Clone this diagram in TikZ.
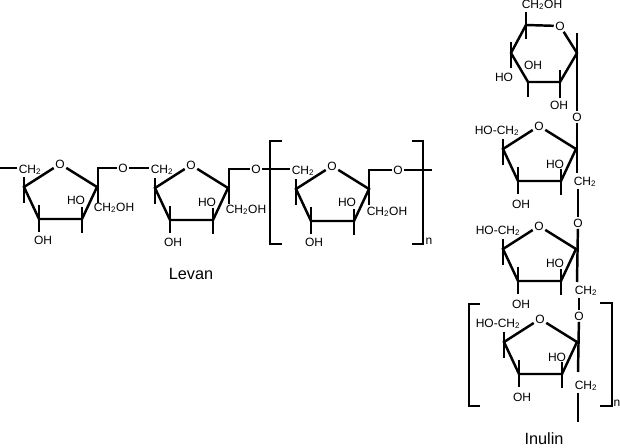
\documentclass[tikz,border=0pt]{standalone}
\usepackage{fontspec}
\setmainfont{Liberation Sans}
\tikzset{bond/.style={line width=1.85pt},
	atom/.style={inner sep=1pt,font=\fontsize{9}{10}\selectfont},
	title/.style={inner sep=0pt,font=\fontsize{12.2}{14}\selectfont},
	fivering/.pic={
		\node[atom] (o) at (0,0) {O};
		\coordinate (lc) at (-36,23);
		\coordinate (rc) at (37,23);
		\coordinate (bl) at (-21,55);
		\coordinate (br) at (22,55);
		\coordinate (la) at (-36,13);
		\coordinate (lb) at (-36,39);
		\coordinate (bla) at (-21,41);
		\coordinate (blb) at (-21,68);
		\coordinate (bra) at (22,43);
		\coordinate (brb) at (22,69);
		\draw[bond] (o) -- (rc) -- (br) -- (bl) -- (lc) -- (o);
		\draw[bond] (la) -- (lb);
		\draw[bond] (bla) -- (blb);
		\draw[bond] (bra) -- (brb);
	}}
\newcommand{\chtwo}{CH\textsubscript{2}}
\begin{document}
\begin{tikzpicture}[x=0.75pt,y=-0.75pt]
	\useasboundingbox (0,0) rectangle (620,448);

	% levan
	\pic (r1) at (60,164) {fivering};
	\pic (r2) at (191,165) {fivering};
	\pic (r3) at (332,166) {fivering};

	\node[atom] (ch1) at (30,170) {\chtwo};
	\node[atom] (ch2) at (162,170) {\chtwo};
	\node[atom] (ch3) at (303,171) {\chtwo};
	\node[atom] (ho1) at (76,200) {HO};
	\node[atom] (ho2) at (207,202) {HO};
	\node[atom] (ho3) at (347,202) {HO};
	\node[atom] (oh1) at (43,240) {OH};
	\node[atom] (oh2) at (173,242) {OH};
	\node[atom] (oh3) at (314,242) {OH};
	\node[atom] (hm1) at (114,208) {\chtwo OH};
	\node[atom] (hm2) at (246,210) {\chtwo OH};
	\node[atom] (hm3) at (387,212) {\chtwo OH};
	\node[atom] (o1) at (123,168) {O};
	\node[atom] (o2) at (256,169) {O};
	\node[atom] (o3) at (398,170) {O};
	\node[atom] (n1) at (429,241) {n};
	\node[title] (levan) at (191,274) {Levan};

	\coordinate (lstart) at (0,168);
	\coordinate (lend) at (432,170);
	\coordinate (k1) at (98,168);
	\coordinate (k2) at (229,169);
	\coordinate (k3) at (369,170);
	\coordinate (d1) at (98,203);
	\coordinate (d2) at (229,204);
	\coordinate (d3) at (369,205);

	\draw[bond] (lstart) -- (lstart -| ch1.west);
	\draw[bond] (d1) -- (k1) -- (o1);
	\draw[bond] (o1) -- (o1 -| ch2.west);
	\draw[bond] (d2) -- (k2) -- (o2);
	\draw[bond] (o2) -- (o2 -| ch3.west);
	\draw[bond] (d3) -- (k3) -- (o3);
	\draw[bond] (o3) -- (lend);

	\coordinate (lba) at (282,141);
	\coordinate (lbb) at (270,141);
	\coordinate (lbc) at (270,244);
	\coordinate (lbd) at (282,244);
	\coordinate (rba) at (412,141);
	\coordinate (rbb) at (423,141);
	\coordinate (rbc) at (423,244);
	\coordinate (rbd) at (412,244);
	\draw[bond] (lba) -- (lbb) -- (lbc) -- (lbd);
	\draw[bond] (rba) -- (rbb) -- (rbc) -- (rbd);

	% inulin
	\node[atom] (po) at (560,26) {O};
	\coordinate (p1) at (577,53);
	\coordinate (p2) at (560,82);
	\coordinate (p3) at (528,82);
	\coordinate (p4) at (511,53);
	\coordinate (p5) at (526,25);
	\draw[bond] (po) -- (p1) -- (p2) -- (p3) -- (p4) -- (p5) -- (po);
	\coordinate (p5a) at (526,12);
	\coordinate (p5b) at (526,39);
	\coordinate (p4a) at (511,42);
	\coordinate (p4b) at (511,68);
	\coordinate (p3b) at (528,97);
	\coordinate (p2a) at (560,70);
	\coordinate (p2b) at (560,98);
	\coordinate (p1a) at (577,33);
	\draw[bond] (p5a) -- (p5b);
	\draw[bond] (p4a) -- (p4b);
	\draw[bond] (p3) -- (p3b);
	\draw[bond] (p2a) -- (p2b);
	\node[atom] (hmp) at (542,5) {\chtwo OH};
	\node[atom] (hop) at (504,77) {HO};
	\node[atom] (ohp) at (533,65) {OH};
	\node[atom] (ohq) at (559,105) {OH};

	\pic (r4) at (539,126) {fivering};
	\pic (r5) at (539,226) {fivering};
	\pic (r6) at (540,319) {fivering};

	\node[atom] (hc4) at (497,131) {HO-\chtwo};
	\node[atom] (hc5) at (498,231) {HO-\chtwo};
	\node[atom] (hc6) at (498,324) {HO-\chtwo};
	\node[atom] (ho4) at (555,164) {HO};
	\node[atom] (ho5) at (555,263) {HO};
	\node[atom] (ho6) at (557,357) {HO};
	\node[atom] (oh4) at (521,204) {OH};
	\node[atom] (oh5) at (521,304) {OH};
	\node[atom] (oh6) at (522,397) {OH};
	\node[atom] (ch4) at (585,182) {\chtwo};
	\node[atom] (ch5) at (586,291) {\chtwo};
	\node[atom] (ch6) at (586,386) {\chtwo};
	\node[atom] (o4) at (577,117) {O};
	\node[atom] (o5) at (578,223) {O};
	\node[atom] (o6) at (579,316) {O};
	\node[atom] (n2) at (617,403) {n};
	\node[title] (inulin) at (544,439) {Inulin};

	\coordinate (e4) at (577,173);
	\coordinate (e5) at (577,282);
	\coordinate (e6) at (578,372);
	\coordinate (iend) at (578,422);

	\draw[bond] (p1a) -- (o4);
	\draw[bond] (o4) -- (e4);
	\draw[bond] (o5 |- ch4.south) -- (o5);
	\draw[bond] (o5) -- (e5);
	\draw[bond] (o6 |- ch5.south) -- (o6);
	\draw[bond] (o6) -- (e6);
	\draw[bond] (e6 |- ch6.south) -- (iend);

	\coordinate (lca) at (480,304);
	\coordinate (lcb) at (469,304);
	\coordinate (lcc) at (469,406);
	\coordinate (lcd) at (480,406);
	\coordinate (rca) at (600,303);
	\coordinate (rcb) at (612,303);
	\coordinate (rcc) at (612,406);
	\coordinate (rcd) at (600,406);
	\draw[bond] (lca) -- (lcb) -- (lcc) -- (lcd);
	\draw[bond] (rca) -- (rcb) -- (rcc) -- (rcd);
\end{tikzpicture}
\end{document}
